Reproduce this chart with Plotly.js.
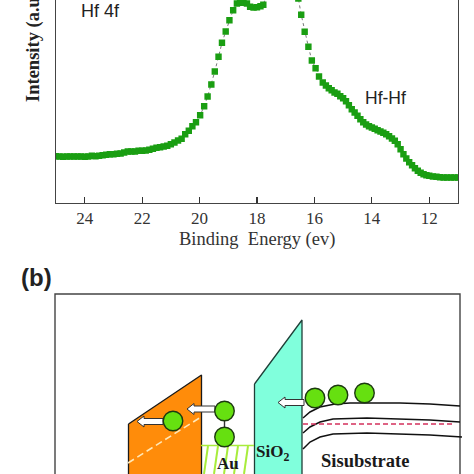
<!DOCTYPE html>
<html><head><meta charset="utf-8">
<script src="https://cdn.plot.ly/plotly-3.0.1.min.js"></script>
<style>html,body{margin:0;padding:0;background:#fff}#c{width:474px;height:474px}</style>
</head><body><div id="c"></div>
<script>
// Panel (a): Hf 4f spectrum
const bindingEnergy = [25,24.875,24.75,24.625,24.5,24.375,24.25,24.125,24,23.875,23.75,23.625,23.5,23.375,23.25,23.125,23,22.875,22.75,22.625,22.5,22.375,22.25,22.125,22,21.875,21.75,21.625,21.5,21.375,21.25,21.125,21,20.875,20.75,20.625,20.5,20.375,20.25,20.125,19.98,19.84,19.72,19.59,19.47,19.34,19.22,19.09,18.96,18.83,18.7,18.59,18.47,18.35,18.24,18.12,18,17.88,17.78,17.65,17.4,17,16.7,16.56,16.46,16.34,16.21,16.09,15.96,15.84,15.71,15.6,15.5,15.4,15.3,15.2,15.1,15,14.9,14.8,14.7,14.6,14.5,14.4,14.3,14.2,14.1,14,13.9,13.8,13.7,13.6,13.5,13.4,13.3,13.2,13.1,13,12.9,12.8,12.7,12.6,12.5,12.4,12.3,12.2,12.1,12,11.875,11.75,11.625,11.5,11.375,11.25,11.125,11];
const intensity = [46.3,46,45.7,46,46,46,46,46,45.7,46,46.7,46.3,46.7,47.3,47.7,48.3,48.3,48.7,49,50,51,51,51,51.7,51.7,52,52.7,53.7,54.7,55.3,56,56.7,58.3,60,62,63.7,68.3,71.7,76.3,80.3,87.3,96.3,106,118,131,145.7,159.7,171,182.3,192.3,199,199.7,199.7,199,195.7,195,195.3,196.3,197.7,210,225,235,215,204,187.7,170.7,155.7,142,134.3,126,120,117,114.3,112.3,110,108.7,106.3,104.3,101.3,97.3,93.3,90,86.7,83.3,80.3,78,76.3,75,73.7,72.3,71,69.7,68.3,66.3,64,61.7,58.3,53.3,48.3,44,40.3,37.3,34.3,31.7,29.7,28.3,27.3,26.7,26,25.7,25.3,25,25,25,25,25];
const tickValues = [24,22,20,18,16,14,12];
const tickLabels = ['24','22','20','18','16','14','12'];

// Panel (b): band diagram outlines
const frameX = [55,55,460,460], frameY = [480,294,294,480];
const metalX = [128.5,201.5,201.5,128.5,128.5], metalY = [424,375,480,480,424];
const fermiX = [128,201], fermiY = [463,417];
const oxideX = [254.5,302,302,254.5,254.5], oxideY = [384,320,480,480,384];
const auTopX = [201,254], auTopY = [445.5,445.5];
const auHatchX = [208,204,null,218,214,null,228,224,null,238,234,null,248,244];
const auHatchY = [446,474,null,446,474,null,446,474,null,446,474,null,446,474];
const band1X = [303,310,320,335,350,400,430,460], band1Y = [418,412,407,404,403,403,404,406];
const band2X = [303,310,320,333,367,400,430,460], band2Y = [433,427,422,419,418,419,420,422];
const band3X = [303,310,320,333,367,400,430,462], band3Y = [449,442,437,434,433,434,435,437];
const siFermiX = [303,452], siFermiY = [424,424];
const linkX = [224.5,224.5], linkY = [420,428];
const electronX = [173,224.5,224.5,315,338,364.5], electronY = [421,411,437,398,395,393];
const arrow1X = [163,144,144,137,144,144,163,163], arrow1Y = [418.5,418.5,416,421.5,427,424.5,424.5,418.5];
const arrow2X = [215,194,194,187,194,194,215,215], arrow2Y = [406,406,403.5,409,414.5,412,412,406];
const arrow3X = [304,285,285,278,285,285,304,304], arrow3Y = [399.5,399.5,397,402.5,408,405.5,405.5,399.5];

const sch = {xaxis:'x2', yaxis:'y2', hoverinfo:'skip', showlegend:false, type:'scatter'};
const ln = (x,y,color,width,dash) => Object.assign({}, sch, {x,y,mode:'lines',line:{color,width,dash:dash||'solid'}});
const poly = (x,y,fill,color,width) => Object.assign({}, sch, {x,y,mode:'lines',fill:'toself',fillcolor:fill,line:{color,width}});

const traces = [
  {type:'scatter', x:bindingEnergy, y:intensity, mode:'lines+markers', showlegend:false,
   line:{color:'#555555', width:0.8, dash:'dot'},
   marker:{symbol:'square', size:6.4, color:'#1A9E12', line:{width:0}}},
  ln(frameX, frameY, '#444444', 1.4),
  poly(metalX, metalY, '#FF8C0A', '#1a1a1a', 1.3),
  ln(fermiX, fermiY, '#FFE8B8', 1.6, '7px,4px'),
  poly(oxideX, oxideY, '#80FFDC', '#1f3f38', 1.3),
  ln(auHatchX, auHatchY, '#A8EC3C', 2),
  ln(auTopX, auTopY, '#A8EC3C', 1.6),
  ln(band1X, band1Y, '#111111', 1.5),
  ln(band2X, band2Y, '#111111', 1.5),
  ln(band3X, band3Y, '#111111', 1.5),
  ln(siFermiX, siFermiY, '#D4305C', 1.4, '5px,3px'),
  ln(linkX, linkY, '#333333', 1.4),
  poly(arrow1X, arrow1Y, '#FFFFFF', '#333333', 1),
  poly(arrow2X, arrow2Y, '#FFFFFF', '#333333', 1),
  poly(arrow3X, arrow3Y, '#FFFFFF', '#333333', 1),
  Object.assign({}, sch, {x:electronX, y:electronY, mode:'markers',
    marker:{symbol:'circle', size:19.5, color:'#66E010', line:{color:'#1c3a10', width:1.4}}})
];

const serif = '"Liberation Serif", serif', sans = '"Liberation Sans", sans-serif';
const note = (x,y,text,font,extra) => Object.assign({xref:'x2',yref:'y2',x,y,text,showarrow:false,font,xanchor:'left',yanchor:'middle',borderpad:0}, extra||{});

const layout = {
  width:474, height:474, margin:{l:0,r:0,t:0,b:0}, paper_bgcolor:'#fff', plot_bgcolor:'rgba(0,0,0,0)', showlegend:false,
  xaxis:{domain:[56/474,458/474], range:[25,11], anchor:'y', tickvals:tickValues, ticktext:tickLabels,
    ticks:'inside', ticklen:6, tickwidth:1.2, tickcolor:'#333', showline:true, linecolor:'#444', linewidth:1.4,
    showgrid:false, zeroline:false, tickfont:{family:serif,size:17,color:'#333'}, tickangle:0},
  yaxis:{domain:[271.5/474,1], range:[0,202.5], anchor:'x', showticklabels:false, ticks:'', showline:true, mirror:true,
    linecolor:'#444', linewidth:1.4, showgrid:false, zeroline:false},
  xaxis2:{domain:[0,1], range:[0,474], anchor:'y2', visible:false, fixedrange:true},
  yaxis2:{domain:[0,1], range:[474,0], anchor:'x2', visible:false, fixedrange:true},
  annotations:[
    note(178,239,'Binding  Energy (ev)',{family:serif,size:18.5,color:'#333'}),
    note(33,103,'<b>Intensity (a.u.)</b>',{family:serif,size:18.5,color:'#222'},{textangle:-90,xanchor:'center',yanchor:'bottom'}),
    note(80,11,'Hf 4f',{family:sans,size:18,color:'#222'}),
    note(364,98,'Hf-Hf',{family:sans,size:17.5,color:'#222'}),
    note(20,277,'<b>(b)</b>',{family:sans,size:24,color:'#222'}),
    note(255,453,'<b>SiO<sub>2</sub></b>',{family:serif,size:17,color:'#1a1a1a'}),
    note(216,463,'<b>Au</b>',{family:serif,size:17,color:'#1a1a1a'}),
    note(320,461,'<b>Sisubstrate</b>',{family:serif,size:18.5,color:'#1a1a1a'})
  ]
};
Plotly.newPlot('c', traces, layout, {displayModeBar:false, staticPlot:true});
</script></body></html>
